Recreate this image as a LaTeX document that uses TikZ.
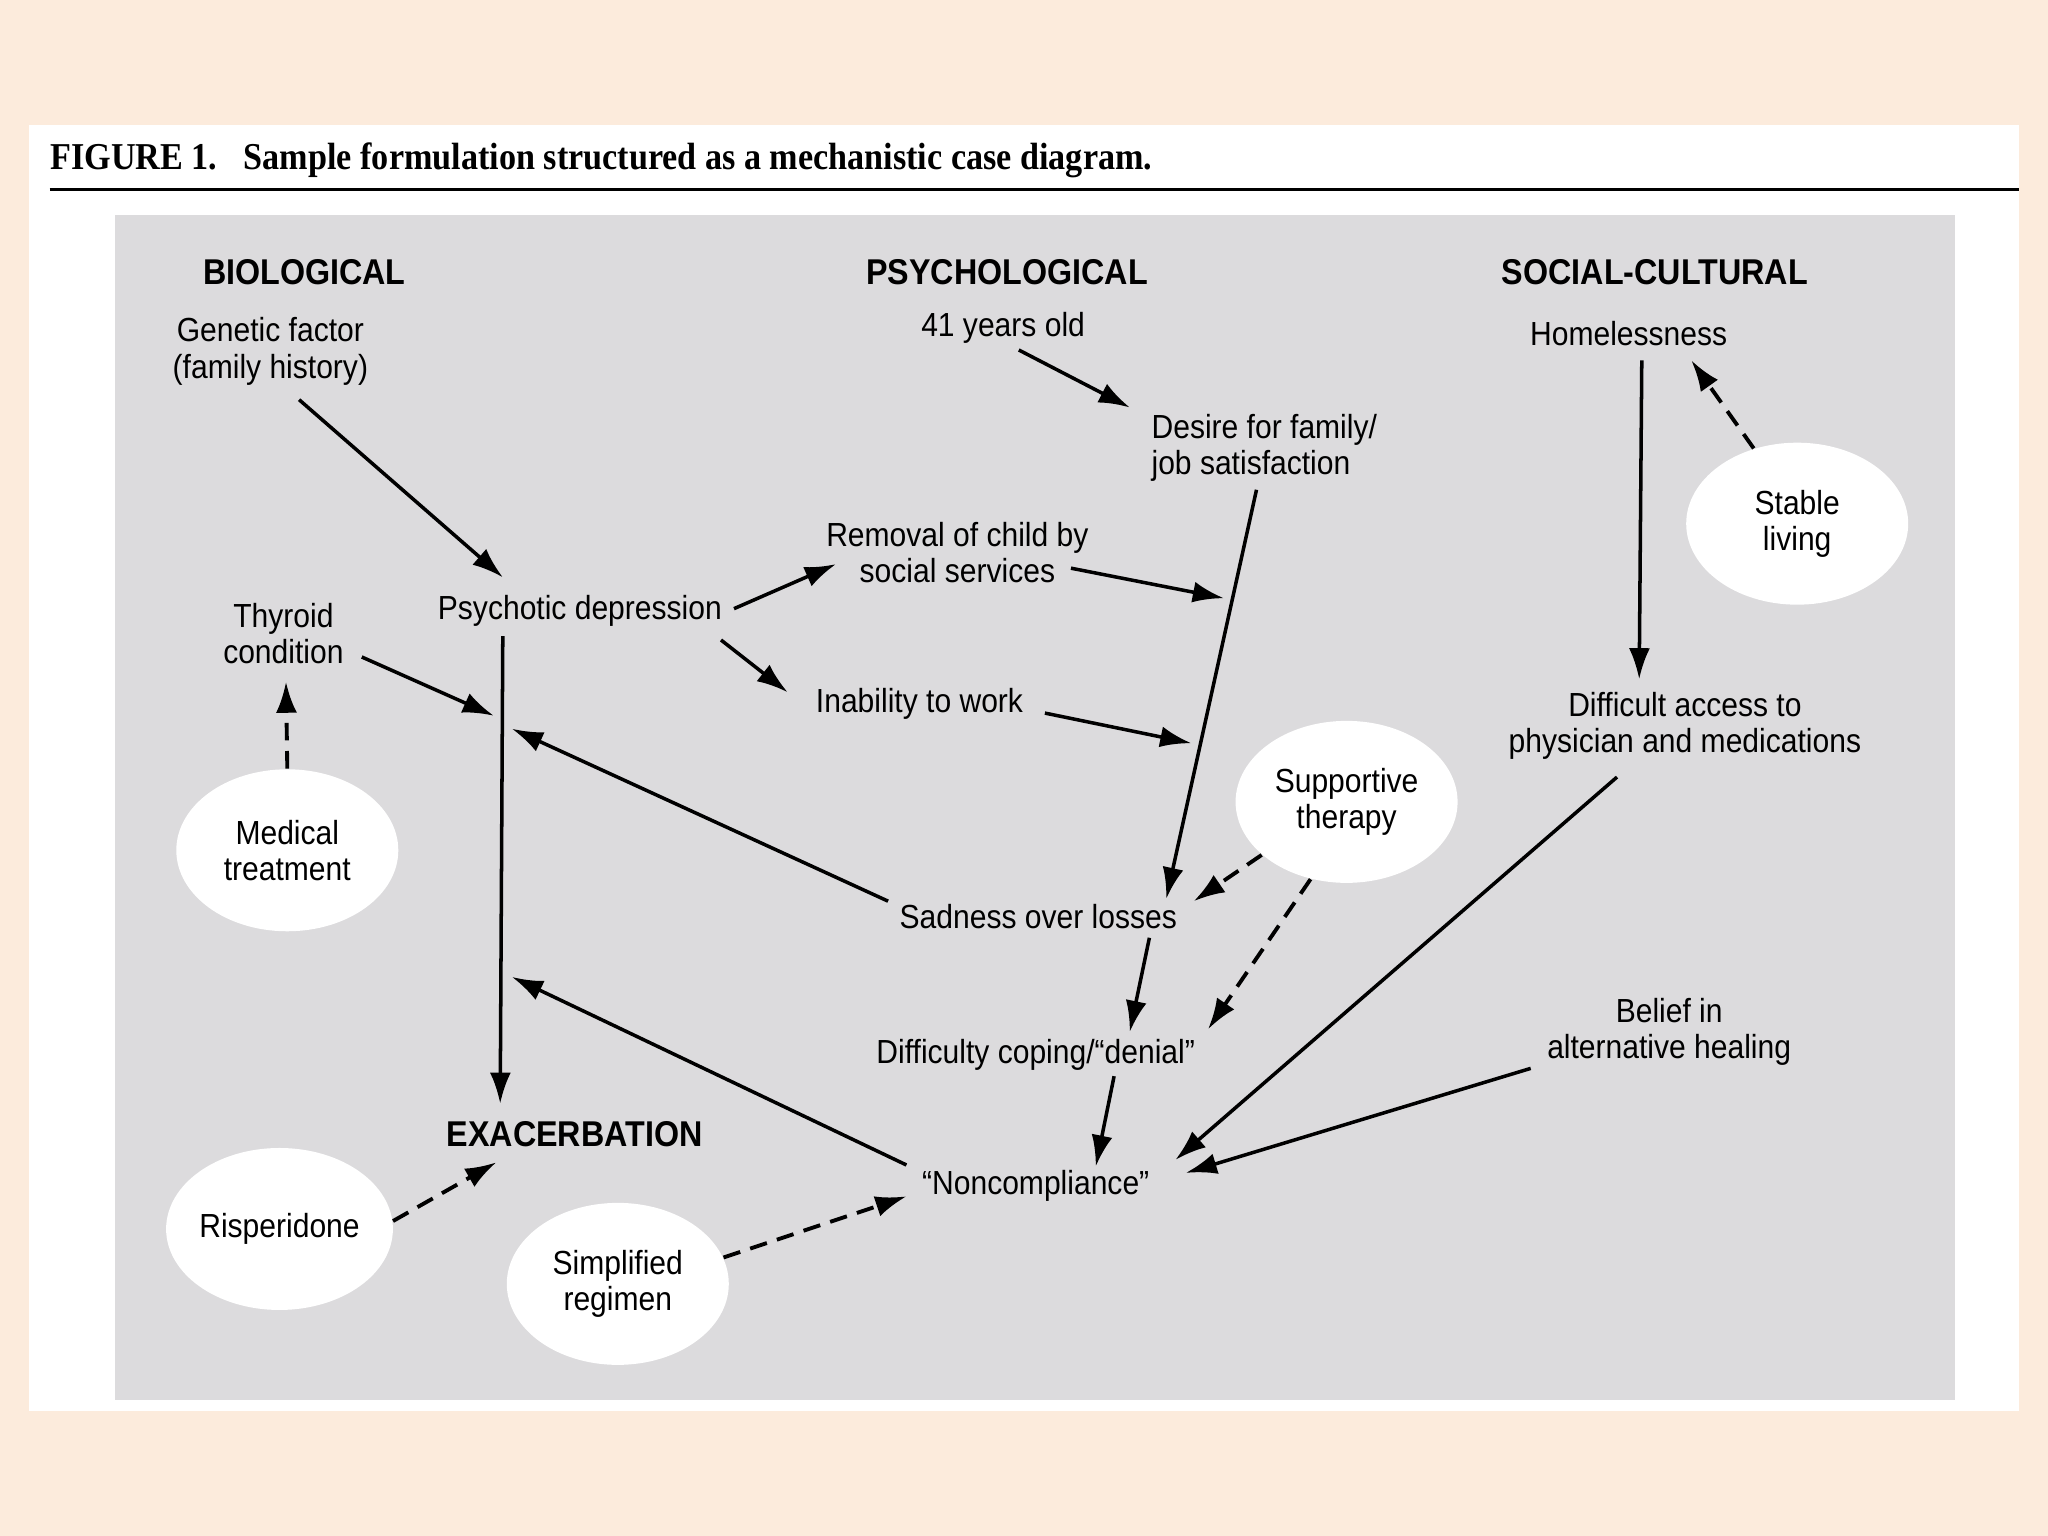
\documentclass[tikz,border=0pt]{standalone}
\usepackage{fontspec}
\setmainfont{Liberation Sans}[FakeStretch=0.9]
\newfontfamily\capfont{Liberation Serif}[FakeStretch=0.9]
\usetikzlibrary{arrows.meta,shapes.geometric,calc}
\definecolor{peach}{RGB}{252,235,220}
\definecolor{panelgray}{RGB}{220,219,221}
\begin{document}
\begin{tikzpicture}[
  txt/.style={font=\fontsize{9.5}{10.3}\selectfont, align=center, inner sep=1pt},
  head/.style={font=\fontsize{10.2}{12}\selectfont\bfseries, inner sep=1pt},
  bubble/.style={ellipse, fill=white, minimum width=2.22cm, minimum height=1.62cm, inner sep=0pt,
    font=\fontsize{9.5}{10.3}\selectfont, align=center},
  arr/.style={-{Latex[length=3.1mm,width=2.1mm]}, line width=1pt},
  darr/.style={arr, line width=1.1pt, dash pattern=on 5pt off 3pt}
]
\useasboundingbox (0,0) rectangle (20.48,15.36);
\fill[peach] (0,0) rectangle (20.48,15.36);
\fill[white] (0.287,1.254) rectangle (20.19,14.106);
\fill[panelgray] (1.149,1.359) rectangle (19.55,13.205);
\draw[line width=0.75pt] (0.496,13.466) -- (20.19,13.466);
\node[anchor=west, inner sep=0pt, font=\capfont\bfseries\fontsize{10.8}{13}\selectfont] (caption) at (0.496,13.76)
  {FIGURE 1.\hspace{0.7em}Sample formulation structured as a mechanistic case diagram.};

\node[head] (bio) at (3.043,12.643) {BIOLOGICAL};
\node[head] (psych) at (10.070,12.643) {PSYCHOLOGICAL};
\node[head] (soc) at (16.548,12.643) {SOCIAL-CULTURAL};
\node[txt] (genetic) at (2.704,11.847) {Genetic factor\\(family history)};
\node[txt] (age) at (10.031,12.082) {41 years old};
\node[txt, align=left] (desire) at (12.643,10.880) {Desire for family/\\job satisfaction};
\node[txt] (homeless) at (16.287,12.029) {Homelessness};
\node[bubble] (stable) at (17.972,10.123) {Stable\\living};
\node[txt] (removal) at (9.574,9.835) {Removal of child by\\social services};
\node[txt] (thyroid) at (2.834,9.025) {Thyroid\\condition};
\node[txt] (psy) at (5.799,9.247) {Psychotic depression};
\node[txt] (inability) at (9.195,8.320) {Inability to work};
\node[txt] (access) at (16.849,8.098) {Difficult access to\\physician and medications};
\node[bubble] (support) at (13.466,7.341) {Supportive\\therapy};
\node[bubble] (medical) at (2.873,6.857) {Medical\\treatment};
\node[txt] (sadness) at (10.383,6.191) {Sadness over losses};
\node[txt] (belief) at (16.692,5.042) {Belief in\\alternative healing};
\node[txt] (coping) at (10.357,4.807) {Difficulty coping/“denial”};
\node[head] (exa) at (5.747,4.023) {EXACERBATION};
\node[txt] (noncomp) at (10.357,3.501) {“Noncompliance”};
\node[bubble] (risp) at (2.795,3.070) {Risperidone};
\node[bubble] (simpl) at (6.178,2.521) {Simplified\\regimen};

\coordinate (jr) at (12.238,9.378);
\coordinate (ji) at (11.912,7.928);
\coordinate (jt) at (4.937,8.203);
\coordinate (js) at (5.120,8.072);
\coordinate (jn) at (5.120,5.590);

\draw[arr] ($(genetic)+(0.287,-0.484)$) -- ($(psy)+(-0.771,0.340)$);
\draw[arr] ($(age)+(0.157,-0.222)$) -- ($(desire)+(-1.345,0.405)$);
\draw[arr] ($(psy)+(1.541,0.026)$) -- ($(removal)+(-1.215,-0.117)$);
\draw[arr] ($(psy)+(1.411,-0.287)$) -- ($(inability)+(-1.319,0.118)$);
\draw[arr] ($(removal)+(1.136,-0.157)$) -- (jr);
\draw[arr] ($(inability)+(1.254,-0.091)$) -- (ji);
\draw[arr] ($(desire)+(-0.078,-0.418)$) -- ($(sadness)+(1.280,0.183)$);
\draw[arr] ($(thyroid)+(0.784,-0.235)$) -- (jt);
\draw[arr] ($(psy)+(-0.771,-0.248)$) -- ($(exa)+(-0.745,0.301)$);
\draw[arr] ($(sadness)+(-1.502,0.157)$) -- (js);
\draw[arr] ($(noncomp)+(-1.293,0.209)$) -- (jn);
\draw[darr] (medical.north) -- ($(thyroid)+(0.026,-0.483)$);
\draw[arr] ($(homeless)+(0.131,-0.274)$) -- ($(access)+(-0.457,0.470)$);
\draw[darr] (stable.120) -- ($(homeless)+(0.627,-0.274)$);
\draw[darr] (support.212) -- ($(sadness)+(1.555,0.157)$);
\draw[darr] (support.245) -- ($(coping)+(1.724,0.261)$);
\draw[arr] ($(sadness)+(1.111,-0.209)$) -- ($(coping)+(0.941,0.235)$);
\draw[arr] ($(coping)+(0.784,-0.209)$) -- ($(noncomp)+(0.601,0.196)$);
\draw[arr] ($(access)+(-0.679,-0.509)$) -- ($(noncomp)+(1.398,0.261)$);
\draw[arr] ($(belief)+(-1.385,-0.366)$) -- ($(noncomp)+(1.502,0.130)$);
\draw[darr] (risp.4) -- ($(exa)+(-0.784,-0.287)$);
\draw[darr] (simpl.14) -- ($(noncomp)+(-1.293,-0.105)$);
\end{tikzpicture}
\end{document}
